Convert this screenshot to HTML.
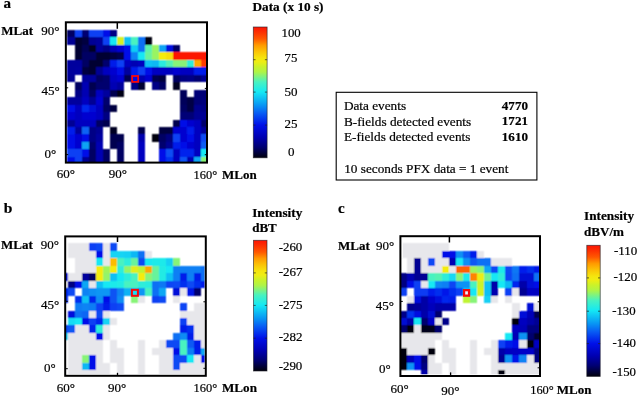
<!DOCTYPE html>
<html lang="en">
<head>
<meta charset="utf-8">
<title>Figure</title>
<style>
html,body{margin:0;padding:0;background:#fff;}
body{width:638px;height:396px;overflow:hidden;font-family:"Liberation Serif",serif;}
svg{display:block;}
text{stroke:#000;stroke-width:0.2px;}
</style>
</head>
<body>
<svg width="638" height="396" viewBox="0 0 638 396" font-family="'Liberation Serif', serif" fill="#000">
<defs><filter id="bl" x="-5%" y="-5%" width="110%" height="110%"><feConvolveMatrix order="3" kernelMatrix="1 2 1 2 4 2 1 2 1" divisor="16" edgeMode="none" preserveAlpha="false"/></filter></defs>
<rect width="638" height="396" fill="#fff"/>
<g id="panel-a">
<clipPath id="ca"><rect x="66.00" y="22.50" width="141.00" height="140.30"/></clipPath>
<g clip-path="url(#ca)"><g shape-rendering="crispEdges" filter="url(#bl)">
<rect x="66.50" y="29.90" width="8.05" height="7.52" fill="#000064"/>
<rect x="74.50" y="29.90" width="7.05" height="7.52" fill="#0840f4"/>
<rect x="81.50" y="29.90" width="7.05" height="7.52" fill="#000072"/>
<rect x="88.50" y="29.90" width="14.05" height="7.52" fill="#0840f4"/>
<rect x="102.50" y="29.90" width="7.05" height="7.52" fill="#0010e8"/>
<rect x="109.50" y="29.90" width="7.05" height="7.52" fill="#000086"/>
<rect x="66.50" y="37.37" width="8.05" height="7.52" fill="#000094"/>
<rect x="74.50" y="37.37" width="7.05" height="7.52" fill="#000030"/>
<rect x="81.50" y="37.37" width="7.05" height="7.52" fill="#000040"/>
<rect x="88.50" y="37.37" width="7.05" height="7.52" fill="#000094"/>
<rect x="95.50" y="37.37" width="7.05" height="7.52" fill="#00009d"/>
<rect x="102.50" y="37.37" width="7.05" height="7.52" fill="#0840f4"/>
<rect x="109.50" y="37.37" width="7.05" height="7.52" fill="#14e8f4"/>
<rect x="116.50" y="37.37" width="7.05" height="7.52" fill="#d5f123"/>
<rect x="123.50" y="37.37" width="7.05" height="7.52" fill="#10c0f4"/>
<rect x="130.50" y="37.37" width="7.05" height="7.52" fill="#48f2c0"/>
<rect x="137.50" y="37.37" width="7.05" height="7.52" fill="#0870f4"/>
<rect x="144.50" y="37.37" width="7.05" height="7.52" fill="#00000c"/>
<rect x="74.50" y="44.83" width="7.05" height="7.52" fill="#000030"/>
<rect x="81.50" y="44.83" width="7.05" height="7.52" fill="#000054"/>
<rect x="88.50" y="44.83" width="7.05" height="7.52" fill="#000022"/>
<rect x="95.50" y="44.83" width="7.05" height="7.52" fill="#00009d"/>
<rect x="102.50" y="44.83" width="7.05" height="7.52" fill="#000086"/>
<rect x="109.50" y="44.83" width="7.05" height="7.52" fill="#0000b3"/>
<rect x="116.50" y="44.83" width="7.05" height="7.52" fill="#0006d0"/>
<rect x="123.50" y="44.83" width="7.05" height="7.52" fill="#0010e8"/>
<rect x="130.50" y="44.83" width="7.05" height="7.52" fill="#11ccf4"/>
<rect x="137.50" y="44.83" width="7.05" height="7.52" fill="#0870f4"/>
<rect x="144.50" y="44.83" width="7.05" height="7.52" fill="#5bf3aa"/>
<rect x="151.50" y="44.83" width="7.05" height="7.52" fill="#99f462"/>
<rect x="158.50" y="44.83" width="7.05" height="7.52" fill="#0aa3f4"/>
<rect x="165.50" y="44.83" width="7.05" height="7.52" fill="#000de0"/>
<rect x="172.50" y="44.83" width="7.05" height="7.52" fill="#000064"/>
<rect x="74.50" y="52.30" width="7.05" height="7.52" fill="#000030"/>
<rect x="81.50" y="52.30" width="14.05" height="7.52" fill="#000064"/>
<rect x="95.50" y="52.30" width="14.05" height="7.52" fill="#000030"/>
<rect x="109.50" y="52.30" width="7.05" height="7.52" fill="#000040"/>
<rect x="116.50" y="52.30" width="7.05" height="7.52" fill="#00004f"/>
<rect x="123.50" y="52.30" width="7.05" height="7.52" fill="#0010e8"/>
<rect x="130.50" y="52.30" width="7.05" height="7.52" fill="#0883f4"/>
<rect x="137.50" y="52.30" width="7.05" height="7.52" fill="#14e8f4"/>
<rect x="144.50" y="52.30" width="7.05" height="7.52" fill="#68f39c"/>
<rect x="151.50" y="52.30" width="7.05" height="7.52" fill="#99f462"/>
<rect x="158.50" y="52.30" width="7.05" height="7.52" fill="#f4ec10"/>
<rect x="165.50" y="52.30" width="7.05" height="7.52" fill="#f6de0d"/>
<rect x="172.50" y="52.30" width="35.05" height="7.52" fill="#fc1404"/>
<rect x="66.50" y="59.77" width="15.05" height="7.52" fill="#00009d"/>
<rect x="81.50" y="59.77" width="7.05" height="7.52" fill="#000064"/>
<rect x="88.50" y="59.77" width="14.05" height="7.52" fill="#000030"/>
<rect x="102.50" y="59.77" width="7.05" height="7.52" fill="#00006e"/>
<rect x="109.50" y="59.77" width="7.05" height="7.52" fill="#021aea"/>
<rect x="116.50" y="59.77" width="7.05" height="7.52" fill="#0840f4"/>
<rect x="123.50" y="59.77" width="7.05" height="7.52" fill="#0000c0"/>
<rect x="130.50" y="59.77" width="7.05" height="7.52" fill="#0000b3"/>
<rect x="137.50" y="59.77" width="7.05" height="7.52" fill="#0000c0"/>
<rect x="144.50" y="59.77" width="7.05" height="7.52" fill="#10c0f4"/>
<rect x="151.50" y="59.77" width="7.05" height="7.52" fill="#0eb8f4"/>
<rect x="158.50" y="59.77" width="7.05" height="7.52" fill="#29ecdf"/>
<rect x="165.50" y="59.77" width="7.05" height="7.52" fill="#55f2b2"/>
<rect x="172.50" y="59.77" width="14.05" height="7.52" fill="#88f478"/>
<rect x="186.50" y="59.77" width="7.05" height="7.52" fill="#2eedda"/>
<rect x="193.50" y="59.77" width="7.05" height="7.52" fill="#ffa800"/>
<rect x="200.50" y="59.77" width="7.05" height="7.52" fill="#fe3a02"/>
<rect x="66.50" y="67.23" width="8.05" height="7.52" fill="#00009d"/>
<rect x="74.50" y="67.23" width="7.05" height="7.52" fill="#0000a1"/>
<rect x="81.50" y="67.23" width="7.05" height="7.52" fill="#000040"/>
<rect x="88.50" y="67.23" width="7.05" height="7.52" fill="#000030"/>
<rect x="95.50" y="67.23" width="7.05" height="7.52" fill="#000094"/>
<rect x="102.50" y="67.23" width="7.05" height="7.52" fill="#0000c0"/>
<rect x="109.50" y="67.23" width="7.05" height="7.52" fill="#0006d0"/>
<rect x="116.50" y="67.23" width="7.05" height="7.52" fill="#0010e8"/>
<rect x="123.50" y="67.23" width="7.05" height="7.52" fill="#00009d"/>
<rect x="130.50" y="67.23" width="7.05" height="7.52" fill="#021eec"/>
<rect x="137.50" y="67.23" width="7.05" height="7.52" fill="#0840f4"/>
<rect x="144.50" y="67.23" width="7.05" height="7.52" fill="#0010e8"/>
<rect x="151.50" y="67.23" width="21.05" height="7.52" fill="#0000c0"/>
<rect x="172.50" y="67.23" width="7.05" height="7.52" fill="#0006d0"/>
<rect x="179.50" y="67.23" width="14.05" height="7.52" fill="#0000c0"/>
<rect x="193.50" y="67.23" width="7.05" height="7.52" fill="#021eec"/>
<rect x="200.50" y="67.23" width="7.05" height="7.52" fill="#021aea"/>
<rect x="66.50" y="74.70" width="8.05" height="7.52" fill="#000094"/>
<rect x="81.50" y="74.70" width="14.05" height="7.52" fill="#00009d"/>
<rect x="95.50" y="74.70" width="7.05" height="7.52" fill="#000064"/>
<rect x="102.50" y="74.70" width="7.05" height="7.52" fill="#00006e"/>
<rect x="109.50" y="74.70" width="7.05" height="7.52" fill="#0000c0"/>
<rect x="116.50" y="74.70" width="7.05" height="7.52" fill="#0006d0"/>
<rect x="123.50" y="74.70" width="7.05" height="7.52" fill="#00004f"/>
<rect x="130.50" y="74.70" width="7.05" height="7.52" fill="#0010e8"/>
<rect x="137.50" y="74.70" width="7.05" height="7.52" fill="#0000b3"/>
<rect x="144.50" y="74.70" width="7.05" height="7.52" fill="#0006d0"/>
<rect x="151.50" y="74.70" width="7.05" height="7.52" fill="#00004f"/>
<rect x="158.50" y="74.70" width="7.05" height="7.52" fill="#000040"/>
<rect x="172.50" y="74.70" width="7.05" height="7.52" fill="#000064"/>
<rect x="179.50" y="74.70" width="7.05" height="7.52" fill="#000081"/>
<rect x="186.50" y="74.70" width="7.05" height="7.52" fill="#000086"/>
<rect x="193.50" y="74.70" width="7.05" height="7.52" fill="#000072"/>
<rect x="200.50" y="74.70" width="7.05" height="7.52" fill="#000094"/>
<rect x="74.50" y="82.17" width="7.05" height="7.52" fill="#000064"/>
<rect x="81.50" y="82.17" width="7.05" height="7.52" fill="#0000b3"/>
<rect x="88.50" y="82.17" width="7.05" height="7.52" fill="#00004f"/>
<rect x="95.50" y="82.17" width="14.05" height="7.52" fill="#00006e"/>
<rect x="109.50" y="82.17" width="7.05" height="7.52" fill="#0000b3"/>
<rect x="116.50" y="82.17" width="7.05" height="7.52" fill="#00009d"/>
<rect x="130.50" y="82.17" width="7.05" height="7.52" fill="#000086"/>
<rect x="137.50" y="82.17" width="7.05" height="7.52" fill="#000030"/>
<rect x="151.50" y="82.17" width="7.05" height="7.52" fill="#000086"/>
<rect x="158.50" y="82.17" width="7.05" height="7.52" fill="#000064"/>
<rect x="172.50" y="82.17" width="7.05" height="7.52" fill="#000022"/>
<rect x="74.50" y="89.64" width="7.05" height="7.52" fill="#000086"/>
<rect x="81.50" y="89.64" width="7.05" height="7.52" fill="#0000b3"/>
<rect x="88.50" y="89.64" width="7.05" height="7.52" fill="#000064"/>
<rect x="95.50" y="89.64" width="7.05" height="7.52" fill="#0000c0"/>
<rect x="102.50" y="89.64" width="7.05" height="7.52" fill="#00009d"/>
<rect x="109.50" y="89.64" width="7.05" height="7.52" fill="#00004f"/>
<rect x="116.50" y="89.64" width="7.05" height="7.52" fill="#000017"/>
<rect x="179.50" y="89.64" width="7.05" height="7.52" fill="#00005a"/>
<rect x="193.50" y="89.64" width="14.05" height="7.52" fill="#000077"/>
<rect x="66.50" y="97.10" width="15.05" height="7.52" fill="#00009d"/>
<rect x="81.50" y="97.10" width="7.05" height="7.52" fill="#0000c0"/>
<rect x="88.50" y="97.10" width="7.05" height="7.52" fill="#000094"/>
<rect x="95.50" y="97.10" width="7.05" height="7.52" fill="#0006d0"/>
<rect x="102.50" y="97.10" width="7.05" height="7.52" fill="#00006e"/>
<rect x="179.50" y="97.10" width="7.05" height="7.52" fill="#00005a"/>
<rect x="186.50" y="97.10" width="7.05" height="7.52" fill="#000045"/>
<rect x="193.50" y="97.10" width="7.05" height="7.52" fill="#000077"/>
<rect x="200.50" y="97.10" width="7.05" height="7.52" fill="#00007c"/>
<rect x="66.50" y="104.57" width="8.05" height="7.52" fill="#0010e8"/>
<rect x="74.50" y="104.57" width="7.05" height="7.52" fill="#0000c0"/>
<rect x="81.50" y="104.57" width="7.05" height="7.52" fill="#0428ee"/>
<rect x="88.50" y="104.57" width="7.05" height="7.52" fill="#000ad8"/>
<rect x="95.50" y="104.57" width="7.05" height="7.52" fill="#0000c0"/>
<rect x="102.50" y="104.57" width="7.05" height="7.52" fill="#000064"/>
<rect x="109.50" y="104.57" width="7.05" height="7.52" fill="#000040"/>
<rect x="179.50" y="104.57" width="7.05" height="7.52" fill="#000064"/>
<rect x="186.50" y="104.57" width="7.05" height="7.52" fill="#000045"/>
<rect x="193.50" y="104.57" width="7.05" height="7.52" fill="#00008f"/>
<rect x="200.50" y="104.57" width="7.05" height="7.52" fill="#000086"/>
<rect x="66.50" y="112.04" width="8.05" height="7.52" fill="#0006d0"/>
<rect x="74.50" y="112.04" width="7.05" height="7.52" fill="#0000c0"/>
<rect x="81.50" y="112.04" width="14.05" height="7.52" fill="#0006d0"/>
<rect x="95.50" y="112.04" width="7.05" height="7.52" fill="#0000c0"/>
<rect x="102.50" y="112.04" width="7.05" height="7.52" fill="#000081"/>
<rect x="179.50" y="112.04" width="14.05" height="7.52" fill="#000077"/>
<rect x="193.50" y="112.04" width="14.05" height="7.52" fill="#000094"/>
<rect x="66.50" y="119.50" width="8.05" height="7.52" fill="#000094"/>
<rect x="74.50" y="119.50" width="21.05" height="7.52" fill="#0000c0"/>
<rect x="95.50" y="119.50" width="7.05" height="7.52" fill="#000064"/>
<rect x="102.50" y="119.50" width="7.05" height="7.52" fill="#00004f"/>
<rect x="172.50" y="119.50" width="7.05" height="7.52" fill="#00004f"/>
<rect x="179.50" y="119.50" width="7.05" height="7.52" fill="#0010e8"/>
<rect x="186.50" y="119.50" width="7.05" height="7.52" fill="#0006d0"/>
<rect x="193.50" y="119.50" width="7.05" height="7.52" fill="#0000c0"/>
<rect x="200.50" y="119.50" width="7.05" height="7.52" fill="#00006e"/>
<rect x="66.50" y="126.97" width="8.05" height="7.52" fill="#021eec"/>
<rect x="74.50" y="126.97" width="7.05" height="7.52" fill="#00009d"/>
<rect x="81.50" y="126.97" width="7.05" height="7.52" fill="#0862f4"/>
<rect x="88.50" y="126.97" width="7.05" height="7.52" fill="#000086"/>
<rect x="95.50" y="126.97" width="7.05" height="7.52" fill="#000094"/>
<rect x="109.50" y="126.97" width="7.05" height="7.52" fill="#000022"/>
<rect x="137.50" y="126.97" width="7.05" height="7.52" fill="#00004f"/>
<rect x="158.50" y="126.97" width="14.05" height="7.52" fill="#000040"/>
<rect x="172.50" y="126.97" width="14.05" height="7.52" fill="#0006d0"/>
<rect x="186.50" y="126.97" width="7.05" height="7.52" fill="#021eec"/>
<rect x="193.50" y="126.97" width="7.05" height="7.52" fill="#0000c0"/>
<rect x="200.50" y="126.97" width="7.05" height="7.52" fill="#00009d"/>
<rect x="66.50" y="134.44" width="8.05" height="7.52" fill="#0010e8"/>
<rect x="74.50" y="134.44" width="7.05" height="7.52" fill="#0006d0"/>
<rect x="81.50" y="134.44" width="7.05" height="7.52" fill="#0010e8"/>
<rect x="88.50" y="134.44" width="7.05" height="7.52" fill="#000086"/>
<rect x="95.50" y="134.44" width="7.05" height="7.52" fill="#0000a1"/>
<rect x="109.50" y="134.44" width="14.05" height="7.52" fill="#00004f"/>
<rect x="137.50" y="134.44" width="7.05" height="7.52" fill="#0000ae"/>
<rect x="151.50" y="134.44" width="7.05" height="7.52" fill="#00000c"/>
<rect x="158.50" y="134.44" width="7.05" height="7.52" fill="#000064"/>
<rect x="165.50" y="134.44" width="7.05" height="7.52" fill="#000081"/>
<rect x="172.50" y="134.44" width="7.05" height="7.52" fill="#0840f4"/>
<rect x="179.50" y="134.44" width="7.05" height="7.52" fill="#0006d0"/>
<rect x="186.50" y="134.44" width="7.05" height="7.52" fill="#0010e8"/>
<rect x="193.50" y="134.44" width="7.05" height="7.52" fill="#0000c0"/>
<rect x="200.50" y="134.44" width="7.05" height="7.52" fill="#084af4"/>
<rect x="66.50" y="141.91" width="8.05" height="7.52" fill="#0010e8"/>
<rect x="74.50" y="141.91" width="7.05" height="7.52" fill="#0006d0"/>
<rect x="81.50" y="141.91" width="7.05" height="7.52" fill="#0aa3f4"/>
<rect x="88.50" y="141.91" width="7.05" height="7.52" fill="#00006e"/>
<rect x="95.50" y="141.91" width="7.05" height="7.52" fill="#0000b3"/>
<rect x="109.50" y="141.91" width="7.05" height="7.52" fill="#00004f"/>
<rect x="116.50" y="141.91" width="7.05" height="7.52" fill="#000064"/>
<rect x="137.50" y="141.91" width="7.05" height="7.52" fill="#0000c0"/>
<rect x="158.50" y="141.91" width="7.05" height="7.52" fill="#00006e"/>
<rect x="165.50" y="141.91" width="7.05" height="7.52" fill="#000094"/>
<rect x="172.50" y="141.91" width="7.05" height="7.52" fill="#021aea"/>
<rect x="179.50" y="141.91" width="7.05" height="7.52" fill="#0010e8"/>
<rect x="186.50" y="141.91" width="7.05" height="7.52" fill="#0006d0"/>
<rect x="193.50" y="141.91" width="7.05" height="7.52" fill="#0000c0"/>
<rect x="200.50" y="141.91" width="7.05" height="7.52" fill="#085df4"/>
<rect x="66.50" y="149.37" width="15.05" height="7.52" fill="#0840f4"/>
<rect x="81.50" y="149.37" width="7.05" height="7.52" fill="#0010e8"/>
<rect x="88.50" y="149.37" width="7.05" height="7.52" fill="#000064"/>
<rect x="95.50" y="149.37" width="7.05" height="7.52" fill="#0000b3"/>
<rect x="102.50" y="149.37" width="7.05" height="7.52" fill="#000064"/>
<rect x="116.50" y="149.37" width="7.05" height="7.52" fill="#000064"/>
<rect x="137.50" y="149.37" width="7.05" height="7.52" fill="#0000c0"/>
<rect x="158.50" y="149.37" width="7.05" height="7.52" fill="#0010e8"/>
<rect x="165.50" y="149.37" width="7.05" height="7.52" fill="#084ef4"/>
<rect x="172.50" y="149.37" width="7.05" height="7.52" fill="#0000c0"/>
<rect x="179.50" y="149.37" width="14.05" height="7.52" fill="#0323ed"/>
<rect x="193.50" y="149.37" width="7.05" height="7.52" fill="#0000c0"/>
<rect x="200.50" y="149.37" width="7.05" height="7.52" fill="#14e8f4"/>
<rect x="66.50" y="156.84" width="8.05" height="7.52" fill="#0010e8"/>
<rect x="74.50" y="156.84" width="7.05" height="7.52" fill="#0840f4"/>
<rect x="81.50" y="156.84" width="7.05" height="7.52" fill="#000094"/>
<rect x="88.50" y="156.84" width="7.05" height="7.52" fill="#000064"/>
<rect x="95.50" y="156.84" width="7.05" height="7.52" fill="#0000b3"/>
<rect x="102.50" y="156.84" width="7.05" height="7.52" fill="#000064"/>
<rect x="116.50" y="156.84" width="7.05" height="7.52" fill="#000064"/>
<rect x="137.50" y="156.84" width="7.05" height="7.52" fill="#0000c0"/>
<rect x="158.50" y="156.84" width="7.05" height="7.52" fill="#0010e8"/>
<rect x="165.50" y="156.84" width="7.05" height="7.52" fill="#0632f0"/>
<rect x="172.50" y="156.84" width="7.05" height="7.52" fill="#0000c0"/>
<rect x="179.50" y="156.84" width="7.05" height="7.52" fill="#0853f4"/>
<rect x="186.50" y="156.84" width="7.05" height="7.52" fill="#0000b3"/>
<rect x="193.50" y="156.84" width="7.05" height="7.52" fill="#0ba7f4"/>
<rect x="200.50" y="156.84" width="7.05" height="7.52" fill="#88f478"/>
</g></g>
<rect x="132.10" y="76.00" width="6.10" height="5.90" fill="none" stroke="#f80808" stroke-width="1.80"/>
<rect x="65.85" y="22.30" width="141.15" height="140.30" fill="none" stroke="#000" stroke-width="2.00"/>
<line x1="117.30" y1="22.50" x2="117.30" y2="28.80" stroke="#000" stroke-width="1.50"/>
<line x1="66.00" y1="87.80" x2="68.20" y2="87.80" stroke="#000" stroke-width="1.00"/>
<line x1="66.00" y1="154.60" x2="68.20" y2="154.60" stroke="#000" stroke-width="1.00"/>
<line x1="204.80" y1="88.40" x2="207.00" y2="88.40" stroke="#000" stroke-width="1.00"/>
<line x1="204.80" y1="154.70" x2="207.00" y2="154.70" stroke="#000" stroke-width="1.00"/>
<text x="3.60" y="8.40" font-size="15.00px" font-weight="bold">a</text>
<text x="1.30" y="35.20" font-size="13.00px" font-weight="bold">MLat</text>
<text x="41.30" y="35.20" font-size="13.00px">90°</text>
<text x="41.40" y="95.20" font-size="13.00px">45°</text>
<text x="44.60" y="158.00" font-size="13.00px">0°</text>
<text x="56.80" y="178.00" font-size="13.00px">60°</text>
<text x="108.80" y="178.00" font-size="13.00px">90°</text>
<text x="193.60" y="178.80" font-size="13.00px" textLength="23.6" lengthAdjust="spacingAndGlyphs">160°</text>
<text x="222.00" y="178.80" font-size="13.00px" font-weight="bold">MLon</text>
<text x="252.50" y="10.60" font-size="13.25px" font-weight="bold">Data (x 10 s)</text>
<linearGradient id="ga" x1="0" y1="0" x2="0" y2="1"><stop offset="0.0000" stop-color="#fc1404"/><stop offset="0.0430" stop-color="#fd3202"/><stop offset="0.0910" stop-color="#ff5800"/><stop offset="0.1390" stop-color="#ff9a00"/><stop offset="0.1870" stop-color="#fbc306"/><stop offset="0.2360" stop-color="#f5e50e"/><stop offset="0.2650" stop-color="#efed13"/><stop offset="0.3040" stop-color="#caf22a"/><stop offset="0.3440" stop-color="#aff446"/><stop offset="0.4200" stop-color="#48f2c0"/><stop offset="0.4970" stop-color="#14e8f4"/><stop offset="0.5970" stop-color="#0896f4"/><stop offset="0.6580" stop-color="#085df4"/><stop offset="0.7500" stop-color="#0010e8"/><stop offset="0.8420" stop-color="#0000b3"/><stop offset="0.9180" stop-color="#000072"/><stop offset="1.0000" stop-color="#00000c"/></linearGradient>
<rect x="253.30" y="27.00" width="13.80" height="130.80" fill="url(#ga)" stroke="#202028" stroke-opacity="0.75" stroke-width="0.8"/>
<line x1="253.30" y1="59.70" x2="255.50" y2="59.70" stroke="#222" stroke-width="0.70"/>
<line x1="264.90" y1="59.70" x2="267.10" y2="59.70" stroke="#222" stroke-width="0.70"/>
<line x1="253.30" y1="92.10" x2="255.50" y2="92.10" stroke="#222" stroke-width="0.70"/>
<line x1="264.90" y1="92.10" x2="267.10" y2="92.10" stroke="#222" stroke-width="0.70"/>
<line x1="253.30" y1="125.10" x2="255.50" y2="125.10" stroke="#222" stroke-width="0.70"/>
<line x1="264.90" y1="125.10" x2="267.10" y2="125.10" stroke="#222" stroke-width="0.70"/>
<text x="281.50" y="37.00" font-size="12.80px">100</text>
<text x="284.60" y="62.40" font-size="12.80px">75</text>
<text x="284.50" y="96.40" font-size="13.00px">50</text>
<text x="284.50" y="127.50" font-size="13.00px">25</text>
<text x="288.00" y="156.30" font-size="13.00px">0</text>
</g>
<g id="info">
<rect x="336.2" y="92.3" width="200.7" height="87.7" fill="#fff" stroke="#000" stroke-width="1.1"/>
<text x="343.90" y="110.10" font-size="13.25px">Data events</text>
<text x="343.90" y="125.60" font-size="13.25px">B-fields detected events</text>
<text x="343.90" y="140.90" font-size="13.25px">E-fields detected events</text>
<text x="501.80" y="109.50" font-size="13.10px" font-weight="bold">4770</text>
<text x="501.80" y="125.40" font-size="13.10px" font-weight="bold">1721</text>
<text x="501.80" y="140.90" font-size="13.10px" font-weight="bold">1610</text>
<text x="344.20" y="172.50" font-size="13.25px">10 seconds PFX data = 1 event</text>
</g>
<g id="panel-b">
<clipPath id="cb"><rect x="66.00" y="236.50" width="138.60" height="137.50"/></clipPath>
<g clip-path="url(#cb)"><g shape-rendering="crispEdges" filter="url(#bl)">
<rect x="67.80" y="243.30" width="21.05" height="7.52" fill="#e7e7eb"/>
<rect x="88.80" y="243.30" width="7.05" height="7.52" fill="#0840f4"/>
<rect x="95.80" y="243.30" width="7.05" height="7.52" fill="#084af4"/>
<rect x="102.80" y="243.30" width="7.05" height="7.52" fill="#e7e7eb"/>
<rect x="109.80" y="243.30" width="7.05" height="7.52" fill="#084af4"/>
<rect x="67.80" y="250.77" width="28.05" height="7.52" fill="#e7e7eb"/>
<rect x="95.80" y="250.77" width="7.05" height="7.52" fill="#0010e8"/>
<rect x="102.80" y="250.77" width="7.05" height="7.52" fill="#e7e7eb"/>
<rect x="109.80" y="250.77" width="14.05" height="7.52" fill="#12d4f4"/>
<rect x="123.80" y="250.77" width="7.05" height="7.52" fill="#12d0f4"/>
<rect x="130.80" y="250.77" width="7.05" height="7.52" fill="#0eb8f4"/>
<rect x="137.80" y="250.77" width="7.05" height="7.52" fill="#0870f4"/>
<rect x="144.80" y="250.77" width="7.05" height="7.52" fill="#e7e7eb"/>
<rect x="74.80" y="258.23" width="21.05" height="7.52" fill="#e7e7eb"/>
<rect x="95.80" y="258.23" width="7.05" height="7.52" fill="#14e8f4"/>
<rect x="102.80" y="258.23" width="7.05" height="7.52" fill="#e7e7eb"/>
<rect x="109.80" y="258.23" width="7.05" height="7.52" fill="#fcbc05"/>
<rect x="116.80" y="258.23" width="7.05" height="7.52" fill="#48f2c0"/>
<rect x="123.80" y="258.23" width="7.05" height="7.52" fill="#2eedda"/>
<rect x="130.80" y="258.23" width="7.05" height="7.52" fill="#68f39c"/>
<rect x="137.80" y="258.23" width="7.05" height="7.52" fill="#084af4"/>
<rect x="144.80" y="258.23" width="7.05" height="7.52" fill="#14e8f4"/>
<rect x="151.80" y="258.23" width="14.05" height="7.52" fill="#1eeaea"/>
<rect x="165.80" y="258.23" width="7.05" height="7.52" fill="#12d0f4"/>
<rect x="172.80" y="258.23" width="7.05" height="7.52" fill="#88f478"/>
<rect x="74.80" y="265.70" width="21.05" height="7.52" fill="#e7e7eb"/>
<rect x="95.80" y="265.70" width="7.05" height="7.52" fill="#f4ec10"/>
<rect x="102.80" y="265.70" width="7.05" height="7.52" fill="#9ef45b"/>
<rect x="109.80" y="265.70" width="7.05" height="7.52" fill="#f4ec10"/>
<rect x="116.80" y="265.70" width="7.05" height="7.52" fill="#2eedda"/>
<rect x="123.80" y="265.70" width="7.05" height="7.52" fill="#93f46a"/>
<rect x="130.80" y="265.70" width="7.05" height="7.52" fill="#dfef1d"/>
<rect x="137.80" y="265.70" width="7.05" height="7.52" fill="#c0f430"/>
<rect x="144.80" y="265.70" width="7.05" height="7.52" fill="#ffa800"/>
<rect x="151.80" y="265.70" width="7.05" height="7.52" fill="#68f39c"/>
<rect x="158.80" y="265.70" width="7.05" height="7.52" fill="#24ebe4"/>
<rect x="165.80" y="265.70" width="7.05" height="7.52" fill="#14e8f4"/>
<rect x="172.80" y="265.70" width="28.05" height="7.52" fill="#087ff4"/>
<rect x="200.80" y="265.70" width="7.05" height="7.52" fill="#0870f4"/>
<rect x="60.80" y="273.17" width="7.05" height="7.52" fill="#0008d4"/>
<rect x="67.80" y="273.17" width="14.05" height="7.52" fill="#e7e7eb"/>
<rect x="81.80" y="273.17" width="7.05" height="7.52" fill="#00009d"/>
<rect x="88.80" y="273.17" width="7.05" height="7.52" fill="#000064"/>
<rect x="95.80" y="273.17" width="7.05" height="7.52" fill="#f4ec10"/>
<rect x="102.80" y="273.17" width="7.05" height="7.52" fill="#93f46a"/>
<rect x="109.80" y="273.17" width="7.05" height="7.52" fill="#10c0f4"/>
<rect x="116.80" y="273.17" width="7.05" height="7.52" fill="#14e8f4"/>
<rect x="123.80" y="273.17" width="7.05" height="7.52" fill="#2eedda"/>
<rect x="130.80" y="273.17" width="7.05" height="7.52" fill="#48f2c0"/>
<rect x="137.80" y="273.17" width="7.05" height="7.52" fill="#f4ec10"/>
<rect x="144.80" y="273.17" width="7.05" height="7.52" fill="#88f478"/>
<rect x="151.80" y="273.17" width="7.05" height="7.52" fill="#68f39c"/>
<rect x="158.80" y="273.17" width="7.05" height="7.52" fill="#24ebe4"/>
<rect x="165.80" y="273.17" width="7.05" height="7.52" fill="#10c0f4"/>
<rect x="172.80" y="273.17" width="7.05" height="7.52" fill="#087ff4"/>
<rect x="179.80" y="273.17" width="7.05" height="7.52" fill="#021aea"/>
<rect x="186.80" y="273.17" width="7.05" height="7.52" fill="#087ff4"/>
<rect x="193.80" y="273.17" width="7.05" height="7.52" fill="#021aea"/>
<rect x="200.80" y="273.17" width="7.05" height="7.52" fill="#0870f4"/>
<rect x="67.80" y="280.63" width="7.05" height="7.52" fill="#000081"/>
<rect x="74.80" y="280.63" width="7.05" height="7.52" fill="#0010e8"/>
<rect x="81.80" y="280.63" width="7.05" height="7.52" fill="#0ba7f4"/>
<rect x="88.80" y="280.63" width="7.05" height="7.52" fill="#e7e7eb"/>
<rect x="95.80" y="280.63" width="7.05" height="7.52" fill="#10c0f4"/>
<rect x="102.80" y="280.63" width="7.05" height="7.52" fill="#14e8f4"/>
<rect x="109.80" y="280.63" width="7.05" height="7.52" fill="#1eeaea"/>
<rect x="116.80" y="280.63" width="7.05" height="7.52" fill="#24ebe4"/>
<rect x="123.80" y="280.63" width="14.05" height="7.52" fill="#48f2c0"/>
<rect x="137.80" y="280.63" width="7.05" height="7.52" fill="#2eedda"/>
<rect x="144.80" y="280.63" width="7.05" height="7.52" fill="#29ecdf"/>
<rect x="151.80" y="280.63" width="7.05" height="7.52" fill="#0870f4"/>
<rect x="158.80" y="280.63" width="7.05" height="7.52" fill="#0878f4"/>
<rect x="165.80" y="280.63" width="7.05" height="7.52" fill="#0845f4"/>
<rect x="172.80" y="280.63" width="7.05" height="7.52" fill="#084af4"/>
<rect x="179.80" y="280.63" width="7.05" height="7.52" fill="#052def"/>
<rect x="186.80" y="280.63" width="7.05" height="7.52" fill="#084af4"/>
<rect x="193.80" y="280.63" width="7.05" height="7.52" fill="#052def"/>
<rect x="200.80" y="280.63" width="7.05" height="7.52" fill="#021aea"/>
<rect x="60.80" y="288.10" width="7.05" height="7.52" fill="#0428ee"/>
<rect x="67.80" y="288.10" width="7.05" height="7.52" fill="#084af4"/>
<rect x="81.80" y="288.10" width="7.05" height="7.52" fill="#0883f4"/>
<rect x="88.80" y="288.10" width="7.05" height="7.52" fill="#088ef4"/>
<rect x="95.80" y="288.10" width="14.05" height="7.52" fill="#0896f4"/>
<rect x="109.80" y="288.10" width="7.05" height="7.52" fill="#0853f4"/>
<rect x="116.80" y="288.10" width="7.05" height="7.52" fill="#0883f4"/>
<rect x="123.80" y="288.10" width="7.05" height="7.52" fill="#0eb3f4"/>
<rect x="130.80" y="288.10" width="7.05" height="7.52" fill="#10c0f4"/>
<rect x="137.80" y="288.10" width="7.05" height="7.52" fill="#0896f4"/>
<rect x="144.80" y="288.10" width="7.05" height="7.52" fill="#48f2c0"/>
<rect x="151.80" y="288.10" width="7.05" height="7.52" fill="#0870f4"/>
<rect x="158.80" y="288.10" width="7.05" height="7.52" fill="#0ba7f4"/>
<rect x="172.80" y="288.10" width="7.05" height="7.52" fill="#000ad8"/>
<rect x="179.80" y="288.10" width="7.05" height="7.52" fill="#e7e7eb"/>
<rect x="186.80" y="288.10" width="7.05" height="7.52" fill="#0115e9"/>
<rect x="193.80" y="288.10" width="7.05" height="7.52" fill="#00006e"/>
<rect x="60.80" y="295.57" width="7.05" height="7.52" fill="#0428ee"/>
<rect x="74.80" y="295.57" width="7.05" height="7.52" fill="#052def"/>
<rect x="81.80" y="295.57" width="7.05" height="7.52" fill="#10c0f4"/>
<rect x="88.80" y="295.57" width="7.05" height="7.52" fill="#0428ee"/>
<rect x="95.80" y="295.57" width="7.05" height="7.52" fill="#088ef4"/>
<rect x="102.80" y="295.57" width="7.05" height="7.52" fill="#0010e8"/>
<rect x="109.80" y="295.57" width="7.05" height="7.52" fill="#0853f4"/>
<rect x="116.80" y="295.57" width="7.05" height="7.52" fill="#088ef4"/>
<rect x="130.80" y="295.57" width="7.05" height="7.52" fill="#88f478"/>
<rect x="137.80" y="295.57" width="7.05" height="7.52" fill="#e7e7eb"/>
<rect x="151.80" y="295.57" width="7.05" height="7.52" fill="#0840f4"/>
<rect x="158.80" y="295.57" width="7.05" height="7.52" fill="#084af4"/>
<rect x="172.80" y="295.57" width="7.05" height="7.52" fill="#e7e7eb"/>
<rect x="74.80" y="303.04" width="7.05" height="7.52" fill="#087bf4"/>
<rect x="81.80" y="303.04" width="7.05" height="7.52" fill="#0883f4"/>
<rect x="88.80" y="303.04" width="7.05" height="7.52" fill="#087bf4"/>
<rect x="95.80" y="303.04" width="7.05" height="7.52" fill="#0840f4"/>
<rect x="102.80" y="303.04" width="7.05" height="7.52" fill="#021aea"/>
<rect x="109.80" y="303.04" width="7.05" height="7.52" fill="#0840f4"/>
<rect x="116.80" y="303.04" width="7.05" height="7.52" fill="#084af4"/>
<rect x="179.80" y="303.04" width="7.05" height="7.52" fill="#0845f4"/>
<rect x="193.80" y="303.04" width="14.05" height="7.52" fill="#e7e7eb"/>
<rect x="67.80" y="310.50" width="7.05" height="7.52" fill="#000bdc"/>
<rect x="74.80" y="310.50" width="7.05" height="7.52" fill="#0870f4"/>
<rect x="81.80" y="310.50" width="7.05" height="7.52" fill="#0866f4"/>
<rect x="88.80" y="310.50" width="7.05" height="7.52" fill="#e7e7eb"/>
<rect x="95.80" y="310.50" width="7.05" height="7.52" fill="#084af4"/>
<rect x="102.80" y="310.50" width="7.05" height="7.52" fill="#e7e7eb"/>
<rect x="179.80" y="310.50" width="28.05" height="7.52" fill="#e7e7eb"/>
<rect x="67.80" y="317.97" width="7.05" height="7.52" fill="#13dcf4"/>
<rect x="74.80" y="317.97" width="7.05" height="7.52" fill="#14e8f4"/>
<rect x="81.80" y="317.97" width="7.05" height="7.52" fill="#0010e8"/>
<rect x="88.80" y="317.97" width="7.05" height="7.52" fill="#0840f4"/>
<rect x="95.80" y="317.97" width="7.05" height="7.52" fill="#0428ee"/>
<rect x="102.80" y="317.97" width="7.05" height="7.52" fill="#12d4f4"/>
<rect x="109.80" y="317.97" width="7.05" height="7.52" fill="#e7e7eb"/>
<rect x="179.80" y="317.97" width="7.05" height="7.52" fill="#0840f4"/>
<rect x="186.80" y="317.97" width="21.05" height="7.52" fill="#e7e7eb"/>
<rect x="60.80" y="325.44" width="7.05" height="7.52" fill="#084af4"/>
<rect x="67.80" y="325.44" width="7.05" height="7.52" fill="#0858f4"/>
<rect x="74.80" y="325.44" width="14.05" height="7.52" fill="#e7e7eb"/>
<rect x="88.80" y="325.44" width="7.05" height="7.52" fill="#0323ed"/>
<rect x="95.80" y="325.44" width="7.05" height="7.52" fill="#2eedda"/>
<rect x="102.80" y="325.44" width="7.05" height="7.52" fill="#e7e7eb"/>
<rect x="179.80" y="325.44" width="7.05" height="7.52" fill="#021aea"/>
<rect x="186.80" y="325.44" width="7.05" height="7.52" fill="#052def"/>
<rect x="193.80" y="325.44" width="14.05" height="7.52" fill="#e7e7eb"/>
<rect x="60.80" y="332.90" width="7.05" height="7.52" fill="#12d4f4"/>
<rect x="67.80" y="332.90" width="28.05" height="7.52" fill="#e7e7eb"/>
<rect x="95.80" y="332.90" width="7.05" height="7.52" fill="#0010e8"/>
<rect x="102.80" y="332.90" width="7.05" height="7.52" fill="#e7e7eb"/>
<rect x="172.80" y="332.90" width="7.05" height="7.52" fill="#0870f4"/>
<rect x="179.80" y="332.90" width="7.05" height="7.52" fill="#088bf4"/>
<rect x="186.80" y="332.90" width="7.05" height="7.52" fill="#021aea"/>
<rect x="193.80" y="332.90" width="14.05" height="7.52" fill="#e7e7eb"/>
<rect x="67.80" y="340.37" width="35.05" height="7.52" fill="#e7e7eb"/>
<rect x="109.80" y="340.37" width="7.05" height="7.52" fill="#e7e7eb"/>
<rect x="137.80" y="340.37" width="7.05" height="7.52" fill="#e7e7eb"/>
<rect x="158.80" y="340.37" width="7.05" height="7.52" fill="#e7e7eb"/>
<rect x="165.80" y="340.37" width="14.05" height="7.52" fill="#084af4"/>
<rect x="179.80" y="340.37" width="7.05" height="7.52" fill="#48f2c0"/>
<rect x="186.80" y="340.37" width="7.05" height="7.52" fill="#0858f4"/>
<rect x="193.80" y="340.37" width="7.05" height="7.52" fill="#021aea"/>
<rect x="200.80" y="340.37" width="7.05" height="7.52" fill="#e7e7eb"/>
<rect x="67.80" y="347.84" width="35.05" height="7.52" fill="#e7e7eb"/>
<rect x="109.80" y="347.84" width="14.05" height="7.52" fill="#e7e7eb"/>
<rect x="137.80" y="347.84" width="7.05" height="7.52" fill="#e7e7eb"/>
<rect x="151.80" y="347.84" width="21.05" height="7.52" fill="#e7e7eb"/>
<rect x="172.80" y="347.84" width="7.05" height="7.52" fill="#0010e8"/>
<rect x="179.80" y="347.84" width="7.05" height="7.52" fill="#48f2c0"/>
<rect x="186.80" y="347.84" width="7.05" height="7.52" fill="#087bf4"/>
<rect x="193.80" y="347.84" width="7.05" height="7.52" fill="#021aea"/>
<rect x="200.80" y="347.84" width="7.05" height="7.52" fill="#0ba7f4"/>
<rect x="67.80" y="355.31" width="14.05" height="7.52" fill="#e7e7eb"/>
<rect x="81.80" y="355.31" width="7.05" height="7.52" fill="#88f478"/>
<rect x="88.80" y="355.31" width="7.05" height="7.52" fill="#0010e8"/>
<rect x="95.80" y="355.31" width="7.05" height="7.52" fill="#e7e7eb"/>
<rect x="109.80" y="355.31" width="14.05" height="7.52" fill="#e7e7eb"/>
<rect x="137.80" y="355.31" width="7.05" height="7.52" fill="#e7e7eb"/>
<rect x="158.80" y="355.31" width="14.05" height="7.52" fill="#e7e7eb"/>
<rect x="172.80" y="355.31" width="14.05" height="7.52" fill="#084af4"/>
<rect x="186.80" y="355.31" width="7.05" height="7.52" fill="#14e8f4"/>
<rect x="193.80" y="355.31" width="7.05" height="7.52" fill="#e7e7eb"/>
<rect x="200.80" y="355.31" width="7.05" height="7.52" fill="#0010e8"/>
<rect x="67.80" y="362.77" width="14.05" height="7.52" fill="#e7e7eb"/>
<rect x="81.80" y="362.77" width="7.05" height="7.52" fill="#0eb8f4"/>
<rect x="88.80" y="362.77" width="7.05" height="7.52" fill="#0010e8"/>
<rect x="95.80" y="362.77" width="14.05" height="7.52" fill="#e7e7eb"/>
<rect x="116.80" y="362.77" width="7.05" height="7.52" fill="#e7e7eb"/>
<rect x="137.80" y="362.77" width="7.05" height="7.52" fill="#e7e7eb"/>
<rect x="158.80" y="362.77" width="14.05" height="7.52" fill="#e7e7eb"/>
<rect x="172.80" y="362.77" width="7.05" height="7.52" fill="#084af4"/>
<rect x="179.80" y="362.77" width="28.05" height="7.52" fill="#e7e7eb"/>
<rect x="67.80" y="370.24" width="42.05" height="7.52" fill="#e7e7eb"/>
<rect x="116.80" y="370.24" width="7.05" height="7.52" fill="#e7e7eb"/>
<rect x="137.80" y="370.24" width="7.05" height="7.52" fill="#e7e7eb"/>
<rect x="158.80" y="370.24" width="49.05" height="7.52" fill="#e7e7eb"/>
</g></g>
<rect x="131.90" y="289.80" width="6.00" height="6.00" fill="#13e0f4" stroke="#f80808" stroke-width="2.00"/>
<rect x="65.20" y="236.40" width="140.60" height="139.40" fill="none" stroke="#000" stroke-width="2.00"/>
<line x1="117.50" y1="236.50" x2="117.50" y2="242.00" stroke="#000" stroke-width="1.50"/>
<line x1="117.50" y1="372.80" x2="117.50" y2="375.50" stroke="#000" stroke-width="1.30"/>
<line x1="65.50" y1="301.30" x2="67.80" y2="301.30" stroke="#000" stroke-width="1.00"/>
<line x1="65.50" y1="368.70" x2="67.80" y2="368.70" stroke="#000" stroke-width="1.00"/>
<line x1="203.40" y1="301.80" x2="205.60" y2="301.80" stroke="#000" stroke-width="1.00"/>
<line x1="203.40" y1="368.30" x2="205.60" y2="368.30" stroke="#000" stroke-width="1.00"/>
<text x="3.70" y="213.10" font-size="15.50px" font-weight="bold">b</text>
<text x="1.00" y="249.40" font-size="13.00px" font-weight="bold">MLat</text>
<text x="40.80" y="249.40" font-size="13.00px">90°</text>
<text x="40.90" y="309.20" font-size="13.00px">45°</text>
<text x="44.00" y="372.10" font-size="13.00px">0°</text>
<text x="56.80" y="392.00" font-size="13.00px">60°</text>
<text x="108.00" y="392.00" font-size="13.00px">90°</text>
<text x="193.60" y="392.00" font-size="13.00px" textLength="23.6" lengthAdjust="spacingAndGlyphs">160°</text>
<text x="222.00" y="392.00" font-size="13.10px" font-weight="bold">MLon</text>
<text x="252.20" y="216.50" font-size="13.25px" font-weight="bold">Intensity</text>
<text x="252.20" y="231.50" font-size="13.00px" font-weight="bold">dBT</text>
<linearGradient id="gb" x1="0" y1="0" x2="0" y2="1"><stop offset="0.0000" stop-color="#fc1404"/><stop offset="0.0430" stop-color="#fd3202"/><stop offset="0.0910" stop-color="#ff5800"/><stop offset="0.1390" stop-color="#ff9a00"/><stop offset="0.1870" stop-color="#fbc306"/><stop offset="0.2360" stop-color="#f5e50e"/><stop offset="0.2650" stop-color="#efed13"/><stop offset="0.3040" stop-color="#caf22a"/><stop offset="0.3440" stop-color="#aff446"/><stop offset="0.4200" stop-color="#48f2c0"/><stop offset="0.4970" stop-color="#14e8f4"/><stop offset="0.5970" stop-color="#0896f4"/><stop offset="0.6580" stop-color="#085df4"/><stop offset="0.7500" stop-color="#0010e8"/><stop offset="0.8420" stop-color="#0000b3"/><stop offset="0.9180" stop-color="#000072"/><stop offset="1.0000" stop-color="#00000c"/></linearGradient>
<rect x="253.50" y="240.30" width="13.50" height="130.70" fill="url(#gb)" stroke="#202028" stroke-opacity="0.75" stroke-width="0.8"/>
<line x1="253.50" y1="272.90" x2="255.70" y2="272.90" stroke="#222" stroke-width="0.70"/>
<line x1="264.80" y1="272.90" x2="267.00" y2="272.90" stroke="#222" stroke-width="0.70"/>
<line x1="253.50" y1="305.40" x2="255.70" y2="305.40" stroke="#222" stroke-width="0.70"/>
<line x1="264.80" y1="305.40" x2="267.00" y2="305.40" stroke="#222" stroke-width="0.70"/>
<line x1="253.50" y1="338.20" x2="255.70" y2="338.20" stroke="#222" stroke-width="0.70"/>
<line x1="264.80" y1="338.20" x2="267.00" y2="338.20" stroke="#222" stroke-width="0.70"/>
<text x="278.70" y="251.00" font-size="12.90px">-260</text>
<text x="278.70" y="276.00" font-size="13.00px">-267</text>
<text x="278.70" y="309.30" font-size="13.00px">-275</text>
<text x="278.70" y="341.30" font-size="13.00px">-282</text>
<text x="278.70" y="369.50" font-size="12.90px">-290</text>
</g>
<g id="panel-c">
<clipPath id="cc"><rect x="401.00" y="236.50" width="138.30" height="137.70"/></clipPath>
<g clip-path="url(#cc)"><g shape-rendering="crispEdges" filter="url(#bl)">
<rect x="399.80" y="243.30" width="49.33" height="7.52" fill="#e7e7eb"/>
<rect x="399.80" y="250.77" width="42.29" height="7.52" fill="#e7e7eb"/>
<rect x="442.04" y="250.77" width="14.13" height="7.52" fill="#0010e8"/>
<rect x="456.12" y="250.77" width="7.09" height="7.52" fill="#088ef4"/>
<rect x="463.16" y="250.77" width="7.09" height="7.52" fill="#0858f4"/>
<rect x="470.20" y="250.77" width="7.09" height="7.52" fill="#021aea"/>
<rect x="477.24" y="250.77" width="7.09" height="7.52" fill="#e7e7eb"/>
<rect x="406.84" y="258.23" width="7.09" height="7.52" fill="#e7e7eb"/>
<rect x="413.88" y="258.23" width="7.09" height="7.52" fill="#000094"/>
<rect x="420.92" y="258.23" width="7.09" height="7.52" fill="#e7e7eb"/>
<rect x="427.96" y="258.23" width="7.09" height="7.52" fill="#084af4"/>
<rect x="435.00" y="258.23" width="14.13" height="7.52" fill="#e7e7eb"/>
<rect x="449.08" y="258.23" width="7.09" height="7.52" fill="#0000b3"/>
<rect x="456.12" y="258.23" width="7.09" height="7.52" fill="#14e8f4"/>
<rect x="463.16" y="258.23" width="7.09" height="7.52" fill="#088ef4"/>
<rect x="470.20" y="258.23" width="7.09" height="7.52" fill="#0858f4"/>
<rect x="477.24" y="258.23" width="14.13" height="7.52" fill="#0870f4"/>
<rect x="491.32" y="258.23" width="21.17" height="7.52" fill="#e7e7eb"/>
<rect x="406.84" y="265.70" width="7.09" height="7.52" fill="#e7e7eb"/>
<rect x="413.88" y="265.70" width="7.09" height="7.52" fill="#000094"/>
<rect x="420.92" y="265.70" width="21.17" height="7.52" fill="#e7e7eb"/>
<rect x="442.04" y="265.70" width="7.09" height="7.52" fill="#f4ec10"/>
<rect x="449.08" y="265.70" width="7.09" height="7.52" fill="#e7e7eb"/>
<rect x="456.12" y="265.70" width="14.13" height="7.52" fill="#ff6000"/>
<rect x="470.20" y="265.70" width="7.09" height="7.52" fill="#9ef45b"/>
<rect x="477.24" y="265.70" width="7.09" height="7.52" fill="#88f478"/>
<rect x="484.28" y="265.70" width="7.09" height="7.52" fill="#0ba7f4"/>
<rect x="491.32" y="265.70" width="7.09" height="7.52" fill="#084af4"/>
<rect x="498.36" y="265.70" width="7.09" height="7.52" fill="#1eeaea"/>
<rect x="505.40" y="265.70" width="7.09" height="7.52" fill="#084af4"/>
<rect x="512.44" y="265.70" width="7.09" height="7.52" fill="#0878f4"/>
<rect x="519.48" y="265.70" width="7.09" height="7.52" fill="#021eec"/>
<rect x="526.52" y="265.70" width="7.09" height="7.52" fill="#052def"/>
<rect x="533.56" y="265.70" width="7.09" height="7.52" fill="#0115e9"/>
<rect x="399.80" y="273.17" width="7.09" height="7.52" fill="#000086"/>
<rect x="406.84" y="273.17" width="7.09" height="7.52" fill="#0000b3"/>
<rect x="413.88" y="273.17" width="14.13" height="7.52" fill="#000094"/>
<rect x="427.96" y="273.17" width="7.09" height="7.52" fill="#48f2c0"/>
<rect x="435.00" y="273.17" width="7.09" height="7.52" fill="#55f2b2"/>
<rect x="442.04" y="273.17" width="7.09" height="7.52" fill="#2eedda"/>
<rect x="449.08" y="273.17" width="7.09" height="7.52" fill="#12d8f4"/>
<rect x="456.12" y="273.17" width="7.09" height="7.52" fill="#88f478"/>
<rect x="463.16" y="273.17" width="7.09" height="7.52" fill="#1eeaea"/>
<rect x="470.20" y="273.17" width="7.09" height="7.52" fill="#ff8400"/>
<rect x="477.24" y="273.17" width="7.09" height="7.52" fill="#eaee16"/>
<rect x="484.28" y="273.17" width="7.09" height="7.52" fill="#6ef395"/>
<rect x="491.32" y="273.17" width="7.09" height="7.52" fill="#14e8f4"/>
<rect x="498.36" y="273.17" width="7.09" height="7.52" fill="#2eedda"/>
<rect x="505.40" y="273.17" width="7.09" height="7.52" fill="#0845f4"/>
<rect x="512.44" y="273.17" width="7.09" height="7.52" fill="#0870f4"/>
<rect x="519.48" y="273.17" width="14.13" height="7.52" fill="#0008d4"/>
<rect x="533.56" y="273.17" width="7.09" height="7.52" fill="#0870f4"/>
<rect x="399.80" y="280.63" width="7.09" height="7.52" fill="#000081"/>
<rect x="406.84" y="280.63" width="7.09" height="7.52" fill="#0010e8"/>
<rect x="413.88" y="280.63" width="7.09" height="7.52" fill="#0840f4"/>
<rect x="420.92" y="280.63" width="7.09" height="7.52" fill="#e7e7eb"/>
<rect x="427.96" y="280.63" width="7.09" height="7.52" fill="#14e8f4"/>
<rect x="435.00" y="280.63" width="7.09" height="7.52" fill="#0887f4"/>
<rect x="442.04" y="280.63" width="7.09" height="7.52" fill="#087ff4"/>
<rect x="449.08" y="280.63" width="7.09" height="7.52" fill="#0845f4"/>
<rect x="456.12" y="280.63" width="14.13" height="7.52" fill="#0892f4"/>
<rect x="470.20" y="280.63" width="7.09" height="7.52" fill="#48f2c0"/>
<rect x="477.24" y="280.63" width="7.09" height="7.52" fill="#caf22a"/>
<rect x="484.28" y="280.63" width="7.09" height="7.52" fill="#10c0f4"/>
<rect x="491.32" y="280.63" width="7.09" height="7.52" fill="#0000aa"/>
<rect x="498.36" y="280.63" width="7.09" height="7.52" fill="#14e8f4"/>
<rect x="505.40" y="280.63" width="7.09" height="7.52" fill="#0eb8f4"/>
<rect x="512.44" y="280.63" width="7.09" height="7.52" fill="#0428ee"/>
<rect x="519.48" y="280.63" width="7.09" height="7.52" fill="#0000aa"/>
<rect x="526.52" y="280.63" width="7.09" height="7.52" fill="#000ad8"/>
<rect x="533.56" y="280.63" width="7.09" height="7.52" fill="#0010e8"/>
<rect x="399.80" y="288.10" width="7.09" height="7.52" fill="#0840f4"/>
<rect x="413.88" y="288.10" width="14.13" height="7.52" fill="#073bf3"/>
<rect x="427.96" y="288.10" width="7.09" height="7.52" fill="#021eec"/>
<rect x="435.00" y="288.10" width="7.09" height="7.52" fill="#052def"/>
<rect x="442.04" y="288.10" width="7.09" height="7.52" fill="#0115e9"/>
<rect x="449.08" y="288.10" width="7.09" height="7.52" fill="#052def"/>
<rect x="456.12" y="288.10" width="7.09" height="7.52" fill="#0840f4"/>
<rect x="463.16" y="288.10" width="7.09" height="7.52" fill="#10c0f4"/>
<rect x="470.20" y="288.10" width="7.09" height="7.52" fill="#14e8f4"/>
<rect x="477.24" y="288.10" width="7.09" height="7.52" fill="#d5f123"/>
<rect x="484.28" y="288.10" width="7.09" height="7.52" fill="#10c0f4"/>
<rect x="491.32" y="288.10" width="7.09" height="7.52" fill="#0000ae"/>
<rect x="505.40" y="288.10" width="7.09" height="7.52" fill="#0840f4"/>
<rect x="512.44" y="288.10" width="7.09" height="7.52" fill="#e7e7eb"/>
<rect x="519.48" y="288.10" width="7.09" height="7.52" fill="#000094"/>
<rect x="526.52" y="288.10" width="7.09" height="7.52" fill="#0002c4"/>
<rect x="533.56" y="288.10" width="7.09" height="7.52" fill="#0000c0"/>
<rect x="406.84" y="295.57" width="7.09" height="7.52" fill="#e7e7eb"/>
<rect x="413.88" y="295.57" width="7.09" height="7.52" fill="#000bdc"/>
<rect x="420.92" y="295.57" width="7.09" height="7.52" fill="#0000a6"/>
<rect x="427.96" y="295.57" width="7.09" height="7.52" fill="#0005cc"/>
<rect x="435.00" y="295.57" width="7.09" height="7.52" fill="#000bdc"/>
<rect x="442.04" y="295.57" width="7.09" height="7.52" fill="#0428ee"/>
<rect x="449.08" y="295.57" width="7.09" height="7.52" fill="#021aea"/>
<rect x="463.16" y="295.57" width="7.09" height="7.52" fill="#c0f430"/>
<rect x="470.20" y="295.57" width="7.09" height="7.52" fill="#88f478"/>
<rect x="484.28" y="295.57" width="7.09" height="7.52" fill="#12d0f4"/>
<rect x="491.32" y="295.57" width="7.09" height="7.52" fill="#e7e7eb"/>
<rect x="505.40" y="295.57" width="7.09" height="7.52" fill="#e7e7eb"/>
<rect x="406.84" y="303.04" width="7.09" height="7.52" fill="#00008f"/>
<rect x="413.88" y="303.04" width="7.09" height="7.52" fill="#000098"/>
<rect x="420.92" y="303.04" width="7.09" height="7.52" fill="#0000a6"/>
<rect x="427.96" y="303.04" width="7.09" height="7.52" fill="#0000bc"/>
<rect x="435.00" y="303.04" width="21.17" height="7.52" fill="#0000aa"/>
<rect x="512.44" y="303.04" width="7.09" height="7.52" fill="#e7e7eb"/>
<rect x="526.52" y="303.04" width="7.09" height="7.52" fill="#0008d4"/>
<rect x="533.56" y="303.04" width="7.09" height="7.52" fill="#e7e7eb"/>
<rect x="399.80" y="310.50" width="7.09" height="7.52" fill="#00008a"/>
<rect x="406.84" y="310.50" width="7.09" height="7.52" fill="#0632f0"/>
<rect x="413.88" y="310.50" width="7.09" height="7.52" fill="#000de0"/>
<rect x="420.92" y="310.50" width="7.09" height="7.52" fill="#0000aa"/>
<rect x="427.96" y="310.50" width="7.09" height="7.52" fill="#0008d4"/>
<rect x="435.00" y="310.50" width="7.09" height="7.52" fill="#00006e"/>
<rect x="512.44" y="310.50" width="7.09" height="7.52" fill="#e7e7eb"/>
<rect x="519.48" y="310.50" width="7.09" height="7.52" fill="#000ad8"/>
<rect x="526.52" y="310.50" width="7.09" height="7.52" fill="#0000b7"/>
<rect x="533.56" y="310.50" width="7.09" height="7.52" fill="#00004f"/>
<rect x="399.80" y="317.97" width="7.09" height="7.52" fill="#0008d4"/>
<rect x="406.84" y="317.97" width="7.09" height="7.52" fill="#0000aa"/>
<rect x="413.88" y="317.97" width="7.09" height="7.52" fill="#14e8f4"/>
<rect x="420.92" y="317.97" width="7.09" height="7.52" fill="#00006e"/>
<rect x="427.96" y="317.97" width="7.09" height="7.52" fill="#0003c8"/>
<rect x="435.00" y="317.97" width="7.09" height="7.52" fill="#e7e7eb"/>
<rect x="442.04" y="317.97" width="7.09" height="7.52" fill="#00008a"/>
<rect x="512.44" y="317.97" width="7.09" height="7.52" fill="#00000c"/>
<rect x="519.48" y="317.97" width="7.09" height="7.52" fill="#0000c0"/>
<rect x="526.52" y="317.97" width="7.09" height="7.52" fill="#0000aa"/>
<rect x="533.56" y="317.97" width="7.09" height="7.52" fill="#000094"/>
<rect x="399.80" y="325.44" width="7.09" height="7.52" fill="#00006e"/>
<rect x="406.84" y="325.44" width="7.09" height="7.52" fill="#00000c"/>
<rect x="413.88" y="325.44" width="7.09" height="7.52" fill="#e7e7eb"/>
<rect x="420.92" y="325.44" width="14.13" height="7.52" fill="#00001e"/>
<rect x="435.00" y="325.44" width="7.09" height="7.52" fill="#00006e"/>
<rect x="512.44" y="325.44" width="7.09" height="7.52" fill="#0000c0"/>
<rect x="519.48" y="325.44" width="7.09" height="7.52" fill="#0000b7"/>
<rect x="526.52" y="325.44" width="14.13" height="7.52" fill="#000081"/>
<rect x="399.80" y="332.90" width="42.29" height="7.52" fill="#e7e7eb"/>
<rect x="505.40" y="332.90" width="7.09" height="7.52" fill="#14e8f4"/>
<rect x="512.44" y="332.90" width="7.09" height="7.52" fill="#0000b7"/>
<rect x="519.48" y="332.90" width="7.09" height="7.52" fill="#0892f4"/>
<rect x="526.52" y="332.90" width="7.09" height="7.52" fill="#00006e"/>
<rect x="533.56" y="332.90" width="7.09" height="7.52" fill="#000030"/>
<rect x="399.80" y="340.37" width="35.25" height="7.52" fill="#e7e7eb"/>
<rect x="442.04" y="340.37" width="7.09" height="7.52" fill="#e7e7eb"/>
<rect x="470.20" y="340.37" width="7.09" height="7.52" fill="#e7e7eb"/>
<rect x="491.32" y="340.37" width="7.09" height="7.52" fill="#e7e7eb"/>
<rect x="498.36" y="340.37" width="7.09" height="7.52" fill="#0840f4"/>
<rect x="505.40" y="340.37" width="7.09" height="7.52" fill="#021aea"/>
<rect x="512.44" y="340.37" width="7.09" height="7.52" fill="#0010e8"/>
<rect x="519.48" y="340.37" width="7.09" height="7.52" fill="#e7e7eb"/>
<rect x="526.52" y="340.37" width="7.09" height="7.52" fill="#00000c"/>
<rect x="533.56" y="340.37" width="7.09" height="7.52" fill="#0000c0"/>
<rect x="399.80" y="347.84" width="7.09" height="7.52" fill="#00000c"/>
<rect x="406.84" y="347.84" width="21.17" height="7.52" fill="#e7e7eb"/>
<rect x="427.96" y="347.84" width="7.09" height="7.52" fill="#00000c"/>
<rect x="442.04" y="347.84" width="14.13" height="7.52" fill="#e7e7eb"/>
<rect x="470.20" y="347.84" width="7.09" height="7.52" fill="#e7e7eb"/>
<rect x="484.28" y="347.84" width="14.13" height="7.52" fill="#e7e7eb"/>
<rect x="498.36" y="347.84" width="7.09" height="7.52" fill="#0000aa"/>
<rect x="505.40" y="347.84" width="7.09" height="7.52" fill="#0000c0"/>
<rect x="512.44" y="347.84" width="7.09" height="7.52" fill="#0002c4"/>
<rect x="519.48" y="347.84" width="14.13" height="7.52" fill="#0003c8"/>
<rect x="533.56" y="347.84" width="7.09" height="7.52" fill="#000081"/>
<rect x="399.80" y="355.31" width="7.09" height="7.52" fill="#00000c"/>
<rect x="406.84" y="355.31" width="7.09" height="7.52" fill="#0000b7"/>
<rect x="413.88" y="355.31" width="7.09" height="7.52" fill="#0010e8"/>
<rect x="420.92" y="355.31" width="7.09" height="7.52" fill="#00006e"/>
<rect x="427.96" y="355.31" width="7.09" height="7.52" fill="#e7e7eb"/>
<rect x="442.04" y="355.31" width="14.13" height="7.52" fill="#e7e7eb"/>
<rect x="470.20" y="355.31" width="7.09" height="7.52" fill="#e7e7eb"/>
<rect x="491.32" y="355.31" width="7.09" height="7.52" fill="#e7e7eb"/>
<rect x="498.36" y="355.31" width="7.09" height="7.52" fill="#000094"/>
<rect x="505.40" y="355.31" width="7.09" height="7.52" fill="#0892f4"/>
<rect x="512.44" y="355.31" width="7.09" height="7.52" fill="#0115e9"/>
<rect x="519.48" y="355.31" width="7.09" height="7.52" fill="#0883f4"/>
<rect x="526.52" y="355.31" width="7.09" height="7.52" fill="#e7e7eb"/>
<rect x="533.56" y="355.31" width="7.09" height="7.52" fill="#000081"/>
<rect x="399.80" y="362.77" width="7.09" height="7.52" fill="#00000c"/>
<rect x="406.84" y="362.77" width="7.09" height="7.52" fill="#0892f4"/>
<rect x="413.88" y="362.77" width="7.09" height="7.52" fill="#0010e8"/>
<rect x="420.92" y="362.77" width="7.09" height="7.52" fill="#000081"/>
<rect x="427.96" y="362.77" width="14.13" height="7.52" fill="#e7e7eb"/>
<rect x="449.08" y="362.77" width="7.09" height="7.52" fill="#e7e7eb"/>
<rect x="470.20" y="362.77" width="7.09" height="7.52" fill="#e7e7eb"/>
<rect x="491.32" y="362.77" width="49.33" height="7.52" fill="#e7e7eb"/>
<rect x="420.92" y="370.24" width="7.09" height="7.52" fill="#0000aa"/>
<rect x="427.96" y="370.24" width="14.13" height="7.52" fill="#e7e7eb"/>
<rect x="449.08" y="370.24" width="7.09" height="7.52" fill="#e7e7eb"/>
<rect x="470.20" y="370.24" width="7.09" height="7.52" fill="#e7e7eb"/>
<rect x="491.32" y="370.24" width="7.09" height="7.52" fill="#e7e7eb"/>
<rect x="498.36" y="370.24" width="7.09" height="7.52" fill="#00000c"/>
<rect x="505.40" y="370.24" width="35.25" height="7.52" fill="#e7e7eb"/>
</g></g>
<rect x="400.5" y="236.5" width="2.3" height="21.8" fill="#fff"/>
<rect x="464.05" y="290.15" width="5.00" height="5.50" fill="#e8f4ff" stroke="#f80808" stroke-width="2.30"/>
<rect x="400.40" y="236.20" width="139.60" height="139.80" fill="none" stroke="#000" stroke-width="2.00"/>
<line x1="449.40" y1="236.50" x2="449.40" y2="242.50" stroke="#000" stroke-width="1.50"/>
<line x1="450.60" y1="372.40" x2="450.60" y2="375.60" stroke="#000" stroke-width="1.30"/>
<line x1="400.50" y1="301.40" x2="402.80" y2="301.40" stroke="#000" stroke-width="1.00"/>
<line x1="400.50" y1="368.00" x2="402.80" y2="368.00" stroke="#000" stroke-width="1.00"/>
<line x1="537.60" y1="301.80" x2="540.00" y2="301.80" stroke="#000" stroke-width="1.00"/>
<line x1="537.60" y1="367.80" x2="540.00" y2="367.80" stroke="#000" stroke-width="1.00"/>
<text x="338.00" y="212.90" font-size="15.00px" font-weight="bold">c</text>
<text x="338.00" y="249.90" font-size="13.00px" font-weight="bold">MLat</text>
<text x="375.90" y="249.90" font-size="13.00px">90°</text>
<text x="375.80" y="310.20" font-size="13.00px">45°</text>
<text x="379.00" y="373.00" font-size="13.00px">0°</text>
<text x="390.60" y="392.80" font-size="13.00px">60°</text>
<text x="441.30" y="394.90" font-size="13.00px">90°</text>
<text x="530.20" y="394.30" font-size="13.00px" textLength="23.6" lengthAdjust="spacingAndGlyphs">160°</text>
<text x="556.70" y="394.30" font-size="13.00px" font-weight="bold">MLon</text>
<text x="584.00" y="220.00" font-size="13.25px" font-weight="bold">Intensity</text>
<text x="584.00" y="235.50" font-size="13.10px" font-weight="bold">dBV/m</text>
<linearGradient id="gc" x1="0" y1="0" x2="0" y2="1"><stop offset="0.0000" stop-color="#fc1404"/><stop offset="0.0430" stop-color="#fd3202"/><stop offset="0.0910" stop-color="#ff5800"/><stop offset="0.1390" stop-color="#ff9a00"/><stop offset="0.1870" stop-color="#fbc306"/><stop offset="0.2360" stop-color="#f5e50e"/><stop offset="0.2650" stop-color="#efed13"/><stop offset="0.3040" stop-color="#caf22a"/><stop offset="0.3440" stop-color="#aff446"/><stop offset="0.4200" stop-color="#48f2c0"/><stop offset="0.4970" stop-color="#14e8f4"/><stop offset="0.5970" stop-color="#0896f4"/><stop offset="0.6580" stop-color="#085df4"/><stop offset="0.7500" stop-color="#0010e8"/><stop offset="0.8420" stop-color="#0000b3"/><stop offset="0.9180" stop-color="#000072"/><stop offset="1.0000" stop-color="#00000c"/></linearGradient>
<rect x="586.80" y="245.30" width="13.40" height="131.10" fill="url(#gc)" stroke="#202028" stroke-opacity="0.75" stroke-width="0.8"/>
<line x1="586.80" y1="277.90" x2="589.00" y2="277.90" stroke="#222" stroke-width="0.70"/>
<line x1="598.00" y1="277.90" x2="600.20" y2="277.90" stroke="#222" stroke-width="0.70"/>
<line x1="586.80" y1="311.20" x2="589.00" y2="311.20" stroke="#222" stroke-width="0.70"/>
<line x1="598.00" y1="311.20" x2="600.20" y2="311.20" stroke="#222" stroke-width="0.70"/>
<line x1="586.80" y1="343.60" x2="589.00" y2="343.60" stroke="#222" stroke-width="0.70"/>
<line x1="598.00" y1="343.60" x2="600.20" y2="343.60" stroke="#222" stroke-width="0.70"/>
<text x="614.00" y="255.20" font-size="13.00px">-110</text>
<text x="613.50" y="281.20" font-size="13.00px">-120</text>
<text x="612.20" y="315.00" font-size="12.80px">-130</text>
<text x="612.50" y="347.20" font-size="12.80px">-140</text>
<text x="612.50" y="376.40" font-size="12.80px">-150</text>
</g>
</svg>
</body>
</html>
